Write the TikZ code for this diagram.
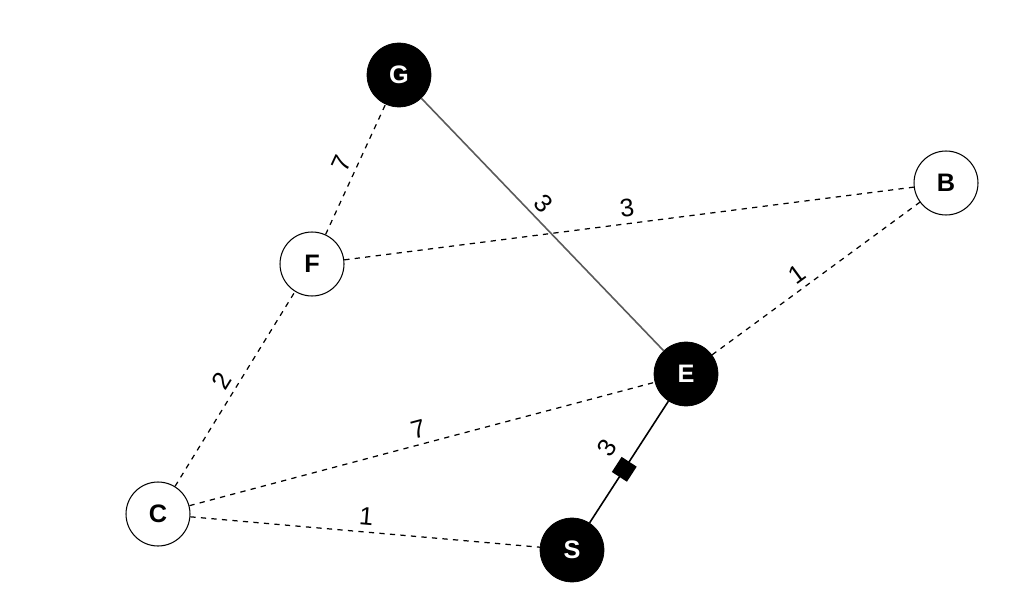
\documentclass[tikz,border=0pt]{standalone}
\usepackage{fontspec}
\setmainfont{Liberation Sans}
\tikzset{
  white/.style={shape=circle,draw=black,fill=white,minimum size=1.28cm,inner sep=0pt,line width=0.6pt,font=\bfseries\Large},
  black/.style={shape=circle,draw=black,fill=black,text=white,minimum size=1.28cm,inner sep=0pt,font=\bfseries\Large},
  lbl/.style={font=\Large,sloped,above},
  dsh/.style={dashed,line width=0.7pt}
}
\begin{document}
\begin{tikzpicture}[x=0.02cm,y=-0.02cm]
	\useasboundingbox (0,0) rectangle (1024,611);
	\node[black] (G) at (399,75) {G};
	\node[white] (B) at (946,183) {B};
	\node[white] (F) at (312,264) {F};
	\node[black] (E) at (686,374) {E};
	\node[white] (C) at (158,514) {C};
	\node[black] (S) at (572,550) {S};

	\draw (G) [gray!70!black,line width=0.9pt] -- node[lbl,pos=0.46,text=black] {3} (E);
	\draw (F) [dsh] -- node[lbl,pos=0.5] {7} (G);
	\draw (F) [dsh] -- node[lbl,pos=0.5] {3} (B);
	\draw (E) [dsh] -- node[lbl,pos=0.45] {1} (B);
	\draw (C) [dsh] -- node[lbl,pos=0.5] {2} (F);
	\draw (C) [dsh] -- node[lbl,pos=0.5] {7} (E);
	\draw (C) [dsh] -- node[lbl,pos=0.5] {1} (S);
	\draw (S) [line width=0.9pt] -- node[pos=0.44,sloped,fill=black,minimum size=0.36cm,inner sep=0pt] (m) {} node[lbl,pos=0.5,yshift=6pt] {3} (E);
\end{tikzpicture}
\end{document}
